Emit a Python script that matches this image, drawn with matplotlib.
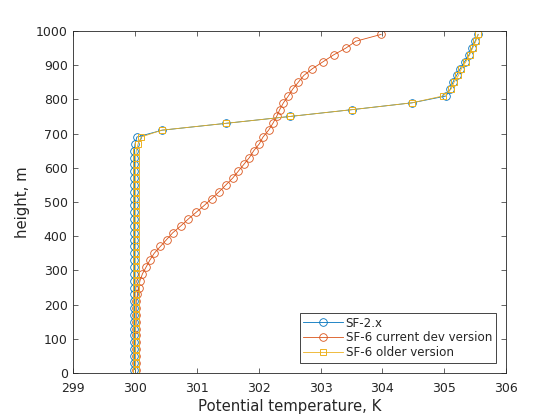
import numpy as np
import matplotlib
matplotlib.use("Agg")
import matplotlib.pyplot as plt

# heights of the model levels, m
height = [10, 30, 50, 70, 90, 110, 130, 150, 170, 190,
          210, 230, 250, 270, 290, 310, 330, 350, 370, 390,
          410, 430, 450, 470, 490, 510, 530, 550, 570, 590,
          610, 630, 650, 670, 690, 710, 730, 750, 770, 790,
          810, 830, 850, 870, 890, 910, 930, 950, 970, 990]

# SF-2.x potential temperature, K
theta_sf2 = [299.99, 299.99, 299.99, 299.99, 299.99, 299.99, 299.99, 299.99, 299.99, 299.99,
             299.99, 299.99, 299.99, 299.99, 299.99, 299.99, 299.99, 299.99, 299.99, 299.99,
             299.99, 299.99, 299.99, 299.99, 299.99, 299.99, 299.99, 299.99, 299.99, 299.99,
             299.99, 299.99, 299.99, 300.00, 300.03, 300.44, 301.47, 302.50, 303.51, 304.48,
             305.03, 305.10, 305.14, 305.20, 305.26, 305.33, 305.40, 305.45, 305.50, 305.55]

# SF-6 current dev version
theta_sf6_dev = [300.01, 300.01, 300.01, 300.01, 300.01, 300.01, 300.01, 300.02, 300.02, 300.02,
                 300.02, 300.04, 300.06, 300.08, 300.12, 300.18, 300.24, 300.31, 300.41, 300.51,
                 300.61, 300.74, 300.86, 300.99, 301.12, 301.24, 301.36, 301.47, 301.58, 301.67,
                 301.76, 301.85, 301.92, 302.01, 302.07, 302.16, 302.23, 302.29, 302.34, 302.40,
                 302.48, 302.55, 302.64, 302.73, 302.87, 303.04, 303.21, 303.41, 303.57, 303.98]

# SF-6 older version
theta_sf6_old = [300.01, 300.01, 300.01, 300.01, 300.01, 300.01, 300.01, 300.01, 300.01, 300.01,
                 300.01, 300.01, 300.01, 300.01, 300.01, 300.01, 300.01, 300.01, 300.01, 300.01,
                 300.01, 300.01, 300.01, 300.01, 300.01, 300.01, 300.01, 300.01, 300.01, 300.01,
                 300.01, 300.01, 300.02, 300.05, 300.10, 300.43, 301.47, 302.50, 303.51, 304.48,
                 304.98, 305.11, 305.16, 305.23, 305.28, 305.35, 305.41, 305.46, 305.51, 305.55]

labels = ["SF-2.x", "SF-6 current dev version", "SF-6 older version"]

axcol = "#262626"
plt.rcParams["font.family"] = "DejaVu Sans"

fig = plt.figure(figsize=(5.6, 4.2), dpi=100)
ax = fig.add_axes([0.1307, 0.1119, 0.7729, 0.8143])

ax.plot(theta_sf2, height, "-o", color="#0072BD", lw=0.6, ms=5.5,
        mfc="none", mew=0.6, label=labels[0])
ax.plot(theta_sf6_dev, height, "-o", color="#D95319", lw=0.6, ms=5.5,
        mfc="none", mew=0.6, label=labels[1])
ax.plot(theta_sf6_old, height, "-s", color="#EDB120", lw=0.6, ms=4.3,
        mfc="none", mew=0.7, label=labels[2])

ax.set_xlim(299, 306)
ax.set_ylim(0, 1000)
ax.set_xticks(np.arange(299, 307, 1))
ax.set_yticks(np.arange(0, 1001, 100))
ax.tick_params(direction="in", length=3.5, width=0.5, colors=axcol,
               labelsize=9, top=True, right=True, pad=4)
ax.tick_params(axis="x", pad=6.5)
for s in ax.spines.values():
    s.set_linewidth(0.6)
    s.set_color(axcol)

ax.set_xlabel("Potential temperature, K", fontsize=10.7, color=axcol, labelpad=3)
ax.set_ylabel("height, m", fontsize=10.7, color=axcol, labelpad=4)

leg = ax.legend(loc="lower right", bbox_to_anchor=(0.976, 0.03), fontsize=8.6,
                fancybox=False, framealpha=1, edgecolor=axcol,
                handlelength=3.3, handletextpad=0.25, borderpad=0.3,
                labelspacing=0.15, borderaxespad=0)
leg.get_frame().set_linewidth(0.6)
for t in leg.get_texts():
    t.set_color(axcol)

fig.savefig("out.png", dpi=100)
